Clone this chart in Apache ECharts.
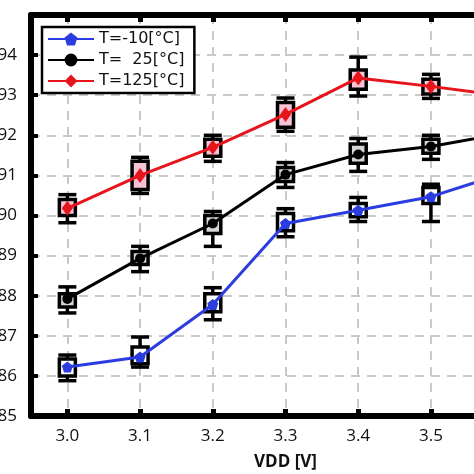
<!DOCTYPE html>
<html><head><meta charset="utf-8">
<script src="https://cdn.jsdelivr.net/npm/echarts@6/dist/echarts.min.js"></script>
<style>html,body{margin:0;padding:0;background:#fff}#c{width:474px;height:474px}</style>
</head><body><div id="c"></div>
<script>
const xTicks = [3.0, 3.1, 3.2, 3.3, 3.4, 3.5, 3.6];
const yTicks = [85, 86, 87, 88, 89, 90, 91, 92, 93, 94, 95];
const xVals = [3.0, 3.1, 3.2, 3.3, 3.4, 3.5, 3.6];

const blueY = [86.22, 86.47, 87.78, 89.80, 90.13, 90.47, 91.05];
const blackY = [87.92, 88.93, 89.80, 91.02, 91.52, 91.72, 92.05];
const redY = [90.18, 91.00, 91.70, 92.52, 93.43, 93.22, 92.98];

const blueLo = [85.88, 86.22, 87.40, 89.47, 89.85, 89.85, 90.75];
const blueQ1 = [86.00, 86.30, 87.60, 89.62, 89.97, 90.30, 90.85];
const blueQ3 = [86.42, 86.72, 88.05, 90.05, 90.30, 90.70, 91.25];
const blueHi = [86.52, 86.97, 88.20, 90.17, 90.45, 90.78, 91.35];

const blackLo = [87.57, 88.60, 89.23, 90.70, 91.10, 91.40, 91.75];
const blackQ1 = [87.72, 88.78, 89.55, 90.85, 91.30, 91.55, 91.90];
const blackQ3 = [88.05, 89.10, 90.00, 91.20, 91.78, 91.90, 92.20];
const blackHi = [88.22, 89.23, 90.10, 91.32, 91.92, 92.00, 92.35];

const redLo = [89.82, 90.55, 91.35, 92.10, 92.98, 92.92, 92.70];
const redQ1 = [90.00, 90.65, 91.48, 92.20, 93.15, 93.03, 92.85];
const redQ3 = [90.40, 91.35, 91.90, 92.82, 93.63, 93.40, 93.15];
const redHi = [90.52, 91.45, 92.00, 92.93, 93.95, 93.52, 93.30];

const seriesNames = ['T=-10[°C]', 'T=  25[°C]', 'T=125[°C]'];
const colors = ['#2b3ce0', '#000000', '#e8141c'];
const boxFills = ['#ffffff', '#d6d6d6', '#f6c4d6'];

function pairs(ys) { return xVals.map((x, i) => [x, ys[i]]); }
function boxes(lo, q1, q3, hi) { return xVals.map((x, i) => [x, lo[i], q1[i], q3[i], hi[i]]); }

function boxRenderer(fill) {
  return function (params, api) {
    const x = api.value(0);
    const pLo = api.coord([x, api.value(1)]);
    const pQ1 = api.coord([x, api.value(2)]);
    const pQ3 = api.coord([x, api.value(3)]);
    const pHi = api.coord([x, api.value(4)]);
    const cx = pLo[0];
    const hw = 8, cw = 9;
    const st = { stroke: '#000', lineWidth: 3.5, fill: null };
    return {
      type: 'group',
      children: [
        { type: 'line', shape: { x1: cx, y1: pLo[1], x2: cx, y2: pQ1[1] }, style: st },
        { type: 'line', shape: { x1: cx, y1: pQ3[1], x2: cx, y2: pHi[1] }, style: st },
        { type: 'line', shape: { x1: cx - cw, y1: pLo[1], x2: cx + cw, y2: pLo[1] }, style: st },
        { type: 'line', shape: { x1: cx - cw, y1: pHi[1], x2: cx + cw, y2: pHi[1] }, style: st },
        { type: 'rect', shape: { x: cx - hw, y: pQ3[1], width: 2 * hw, height: pQ1[1] - pQ3[1] },
          style: { fill: fill, stroke: '#000', lineWidth: 3.5 } }
      ]
    };
  };
}

const pentagon = 'path://M0,-10 L9.5,-3.1 L5.9,8.1 L-5.9,8.1 L-9.5,-3.1 Z';
const chart = echarts.init(document.getElementById('c'), null, { renderer: 'canvas' });
const tickFont = { fontFamily: 'Open Sans', fontSize: 17, color: '#111' };

chart.setOption({
  animation: false,
  backgroundColor: '#fff',
  grid: { left: 31, top: 15, width: 509, height: 401, containLabel: false, outerBoundsMode: 'none' },
  legend: {
    left: 42, top: 27, orient: 'vertical',
    itemWidth: 46, itemHeight: 16, itemGap: 5,
    padding: [4, 10, 4, 5],
    borderColor: '#000', borderWidth: 2.5, backgroundColor: '#fff',
    textStyle: { fontFamily: 'DejaVu Sans', fontSize: 16, color: '#111', padding: [0, 0, 0, 0] },
    data: seriesNames
  },
  xAxis: [{
    type: 'value', min: 2.95, max: 3.65, position: 'bottom',
    axisLine: { onZero: false, lineStyle: { color: '#000', width: 6 } },
    axisTick: { show: true, inside: true, length: 7, customValues: xTicks, lineStyle: { color: '#000', width: 5 } },
    axisLabel: Object.assign({ customValues: xTicks, margin: 12, formatter: v => v.toFixed(1) }, tickFont),
    splitLine: { show: true, lineStyle: { color: '#c9c9c9', width: 2, type: [9, 7] } },
    name: 'VDD [V]', nameLocation: 'middle', nameGap: 38,
    nameTextStyle: { fontFamily: 'Open Sans', fontWeight: 'bold', fontSize: 17, color: '#111' }
  }, {
    type: 'value', min: 2.95, max: 3.65, position: 'top',
    axisLine: { onZero: false, lineStyle: { color: '#000', width: 6 } },
    axisTick: { show: true, inside: true, length: 7, customValues: xTicks, lineStyle: { color: '#000', width: 5 } },
    axisLabel: { show: false },
    splitLine: { show: false }
  }],
  yAxis: [{
    type: 'value', min: 85, max: 95, interval: 1, position: 'left',
    axisLine: { show: true, onZero: false, lineStyle: { color: '#000', width: 6 } },
    axisTick: { show: true, inside: true, length: 7, lineStyle: { color: '#000', width: 4 } },
    axisLabel: Object.assign({ margin: 14, showMaxLabel: false }, tickFont),
    splitLine: { show: true, lineStyle: { color: '#c9c9c9', width: 2, type: [9, 7] } }
  }],
  series: [
    { type: 'custom', name: 'box0', renderItem: boxRenderer(boxFills[0]), data: boxes(blueLo, blueQ1, blueQ3, blueHi), encode: { x: 0, y: [1, 2, 3, 4] }, z: 2 },
    { type: 'custom', name: 'box1', renderItem: boxRenderer(boxFills[1]), data: boxes(blackLo, blackQ1, blackQ3, blackHi), encode: { x: 0, y: [1, 2, 3, 4] }, z: 2 },
    { type: 'custom', name: 'box2', renderItem: boxRenderer(boxFills[2]), data: boxes(redLo, redQ1, redQ3, redHi), encode: { x: 0, y: [1, 2, 3, 4] }, z: 2 },
    { type: 'line', name: seriesNames[0], data: pairs(blueY), color: colors[0], lineStyle: { width: 3 },
      symbol: pentagon, symbolSize: 11, showAllSymbol: true, itemStyle: { color: colors[0] }, z: 5 },
    { type: 'line', name: seriesNames[1], data: pairs(blackY), color: colors[1], lineStyle: { width: 3 },
      symbol: 'circle', symbolSize: 10, itemStyle: { color: colors[1] }, z: 5 },
    { type: 'line', name: seriesNames[2], data: pairs(redY), color: colors[2], lineStyle: { width: 3 },
      symbol: 'diamond', symbolSize: [11, 15], itemStyle: { color: colors[2] }, z: 5 }
  ]
});
</script></body></html>
